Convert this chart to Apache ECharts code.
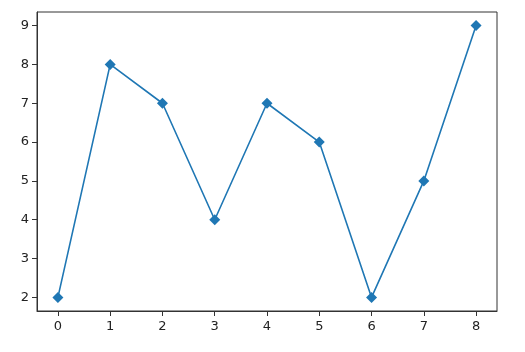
<!DOCTYPE html>
<html><head><meta charset="utf-8">
<script src="https://cdn.jsdelivr.net/npm/echarts@6/dist/echarts.min.js"></script>
<style>html,body{margin:0;padding:0;background:#fff}#c{width:525px;height:352px}</style>
</head><body><div id="c"></div>
<script>
const xValues = [0, 1, 2, 3, 4, 5, 6, 7, 8];
const yValues = [2, 8, 7, 4, 7, 6, 2, 5, 9];
const xTicks = [0, 1, 2, 3, 4, 5, 6, 7, 8];
const yTicks = [2, 3, 4, 5, 6, 7, 8, 9];

const chart = echarts.init(document.getElementById('c'), null, {renderer: 'canvas'});
const axisCommon = {
  type: 'value',
  axisLine: {show: true, onZero: false, lineStyle: {color: '#333', width: 1}},
  axisTick: {show: true, inside: false, length: 5, lineStyle: {color: '#333', width: 1}},
  axisLabel: {color: '#222', fontFamily: 'DejaVu Sans', fontSize: 13},
  splitLine: {show: false}
};
chart.setOption({
  animation: false,
  grid: {left: 37, right: 28, top: 12, bottom: 41, show: true, borderColor: '#333', borderWidth: 1, containLabel: false},
  xAxis: Object.assign({}, axisCommon, {
    min: -0.4, max: 8.4,
    axisTick: Object.assign({}, axisCommon.axisTick, {customValues: xTicks}),
    axisLabel: Object.assign({}, axisCommon.axisLabel, {customValues: xTicks, margin: 9})
  }),
  yAxis: Object.assign({}, axisCommon, {
    min: 1.65, max: 9.35,
    axisTick: Object.assign({}, axisCommon.axisTick, {customValues: yTicks}),
    axisLabel: Object.assign({}, axisCommon.axisLabel, {customValues: yTicks, margin: 8})
  }),
  series: [{
    type: 'line',
    data: xValues.map((x, i) => [x, yValues[i]]),
    symbol: 'diamond',
    symbolSize: 11,
    showAllSymbol: true,
    lineStyle: {color: '#1f77b4', width: 1.6},
    itemStyle: {color: '#1f77b4', borderWidth: 0}
  }]
});
</script></body></html>
